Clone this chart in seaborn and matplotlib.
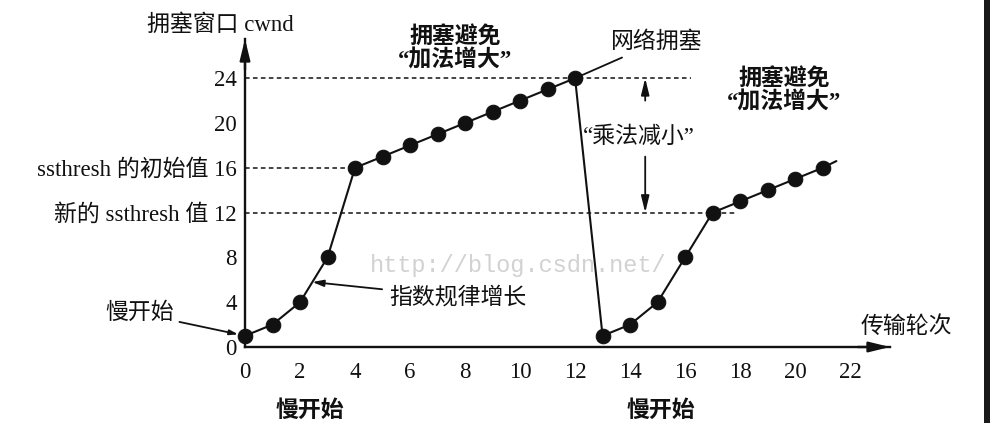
"""
TCP congestion control: cwnd over transmission rounds
(slow start -> congestion avoidance -> multiplicative decrease -> slow start again).
Writes out.png (990 x 423).
"""

import matplotlib
matplotlib.use("Agg")
import matplotlib.pyplot as plt
import matplotlib.ticker as mticker
from matplotlib.patches import Rectangle
import pandas as pd
import seaborn as sns

# ── Data ──────────────────────────────────────────────────────────────────────

rounds = list(range(0, 22))
cwnd = [1, 2, 4, 8, 16, 17, 18, 19, 20, 21, 22, 23, 24,
        1, 2, 4, 8, 12, 13, 14, 15, 16]
# line keeps going a little after the last round
tail_rounds = [21, 21.5]
tail_cwnd = [16, 16.6]

ssthresh_init = 16
ssthresh_new = 12
cwnd_peak = 24

x_ticks = list(range(0, 23, 2))
y_ticks = [0, 4, 8, 12, 16, 20, 24]
y_tick_labels = ["0", "4", "8", "新的 ssthresh 值 12",
                 "ssthresh 的初始值 16", "20", "24"]

# ── Style ─────────────────────────────────────────────────────────────────────

sns.set_theme(style="white")
FONT = ["Liberation Serif", "Noto Sans CJK SC", "DejaVu Sans"]
plt.rcParams["font.family"] = FONT
plt.rcParams["axes.unicode_minus"] = False

FS = 16.5
INK = "#111111"

df = pd.DataFrame({"round": rounds, "cwnd": cwnd})

fig = plt.figure(figsize=(9.9, 4.23), dpi=100)
fig.patch.set_facecolor("white")
ax = fig.add_axes([245 / 990, 76 / 423, 645 / 990, 308 / 423])
ax.set_xlim(0, 23.45)
ax.set_ylim(0, 27.5)

# ── Curve ─────────────────────────────────────────────────────────────────────

sns.lineplot(data=df, x="round", y="cwnd", ax=ax, estimator=None, sort=False,
             color=INK, linewidth=1.5, marker="o", markersize=10.5,
             markeredgecolor=INK, markerfacecolor=INK, clip_on=False, zorder=4)
ax.plot(tail_rounds, tail_cwnd, color=INK, linewidth=1.5, zorder=4)

# threshold guide lines
dash = (0, (3, 2.2))
ax.hlines(cwnd_peak, 0, 16.2, colors=INK, linestyles=dash, linewidth=1.1)
ax.hlines(ssthresh_init, 0, 4, colors=INK, linestyles=dash, linewidth=1.1)
ax.hlines(ssthresh_new, 0, 17.9, colors=INK, linestyles=dash, linewidth=1.1)

# ── Axes look ─────────────────────────────────────────────────────────────────

for side in ("top", "right"):
    ax.spines[side].set_visible(False)
for side in ("left", "bottom"):
    ax.spines[side].set_color(INK)
    ax.spines[side].set_linewidth(1.7)

arrow_style = "-|>,head_length=0.9,head_width=0.22"
ax.annotate("", xy=(1.0, 0), xytext=(0.95, 0), xycoords="axes fraction",
            arrowprops=dict(arrowstyle=arrow_style, color=INK, lw=1.7,
                            mutation_scale=14, shrinkA=0, shrinkB=0))
ax.annotate("", xy=(0, 1.0), xytext=(0, 0.9), xycoords="axes fraction",
            arrowprops=dict(arrowstyle=arrow_style, color=INK, lw=1.7,
                            mutation_scale=14, shrinkA=0, shrinkB=0))

ax.xaxis.set_major_locator(mticker.FixedLocator(x_ticks))
ax.xaxis.set_minor_locator(mticker.MultipleLocator(1))
ax.set_yticks(y_ticks)
ax.set_yticklabels(y_tick_labels)
ax.tick_params(axis="x", which="both", direction="in", length=8, width=1.4,
               color=INK, pad=11, labelsize=FS, labelcolor=INK)
ax.tick_params(axis="y", which="both", direction="in", length=8, width=1.4,
               color=INK, pad=6, labelsize=FS, labelcolor=INK)
ax.set_xlabel("")
ax.set_ylabel("")

# ── Annotations ───────────────────────────────────────────────────────────────

ax.text(-0.9, 28.75, "拥塞窗口 cwnd", fontsize=FS, color=INK,
        ha="center", va="center", clip_on=False)
ax.text(24.05, 1.8, "传输轮次", fontsize=FS, color=INK,
        ha="center", va="center", clip_on=False)

ax.text(7.64, 26.65, "拥塞避免\n“加法增大”", fontsize=FS, fontweight="bold",
        color=INK, ha="center", va="center", linespacing=1.1, clip_on=False)
ax.text(19.6, 22.9, "拥塞避免\n“加法增大”", fontsize=FS, fontweight="bold",
        color=INK, ha="center", va="center", linespacing=1.1, clip_on=False)

ax.annotate("网络拥塞", xy=(12, 24), xytext=(13.3, 27.2), fontsize=FS,
            color=INK, ha="left", va="center", annotation_clip=False,
            arrowprops=dict(arrowstyle="-", color=INK, lw=1.3,
                            shrinkA=2, shrinkB=0))

# multiplicative decrease: 24 -> 12
ax.text(14.3, 18.75, "“乘法减小”", fontsize=FS, color=INK,
        ha="center", va="center")
ax.annotate("", xy=(14.55, cwnd_peak), xytext=(14.55, 22.0),
            arrowprops=dict(arrowstyle=arrow_style, color=INK, lw=1.3,
                            mutation_scale=11, shrinkA=0, shrinkB=0))
ax.annotate("", xy=(14.55, ssthresh_new), xytext=(14.55, 17.0),
            arrowprops=dict(arrowstyle=arrow_style, color=INK, lw=1.3,
                            mutation_scale=11, shrinkA=0, shrinkB=0))

ax.annotate("慢开始", xy=(0, 1), xytext=(-3.85, 3.0), fontsize=FS,
            color=INK, ha="center", va="center", annotation_clip=False,
            arrowprops=dict(arrowstyle="-|>,head_length=0.5,head_width=0.15",
                            color=INK, lw=1.3, mutation_scale=10,
                            shrinkA=2, shrinkB=5))
ax.annotate("指数规律增长", xy=(2.45, 5.8), xytext=(7.75, 4.45), fontsize=FS,
            color=INK, ha="center", va="center",
            arrowprops=dict(arrowstyle="-|>,head_length=0.6,head_width=0.18",
                            color=INK, lw=1.3, mutation_scale=11,
                            shrinkA=3, shrinkB=0))

for xc in (2.35, 15.1):
    ax.text(xc, -5.7, "慢开始", fontsize=FS, fontweight="bold", color=INK,
            ha="center", va="center", clip_on=False)

# watermark left on the scanned figure
ax.text(4.55, 7.3, "http://blog.csdn.net/", fontsize=17, color="#d2d2d2",
        family="Liberation Mono", ha="left", va="center", zorder=0)

# dark strip on the right edge of the screenshot
fig.patches.append(Rectangle((984 / 990, 0), 6 / 990, 1, transform=fig.transFigure,
                             facecolor="#1a1a1a", edgecolor="none", zorder=10))

fig.savefig("out.png", dpi=100, facecolor="white")
